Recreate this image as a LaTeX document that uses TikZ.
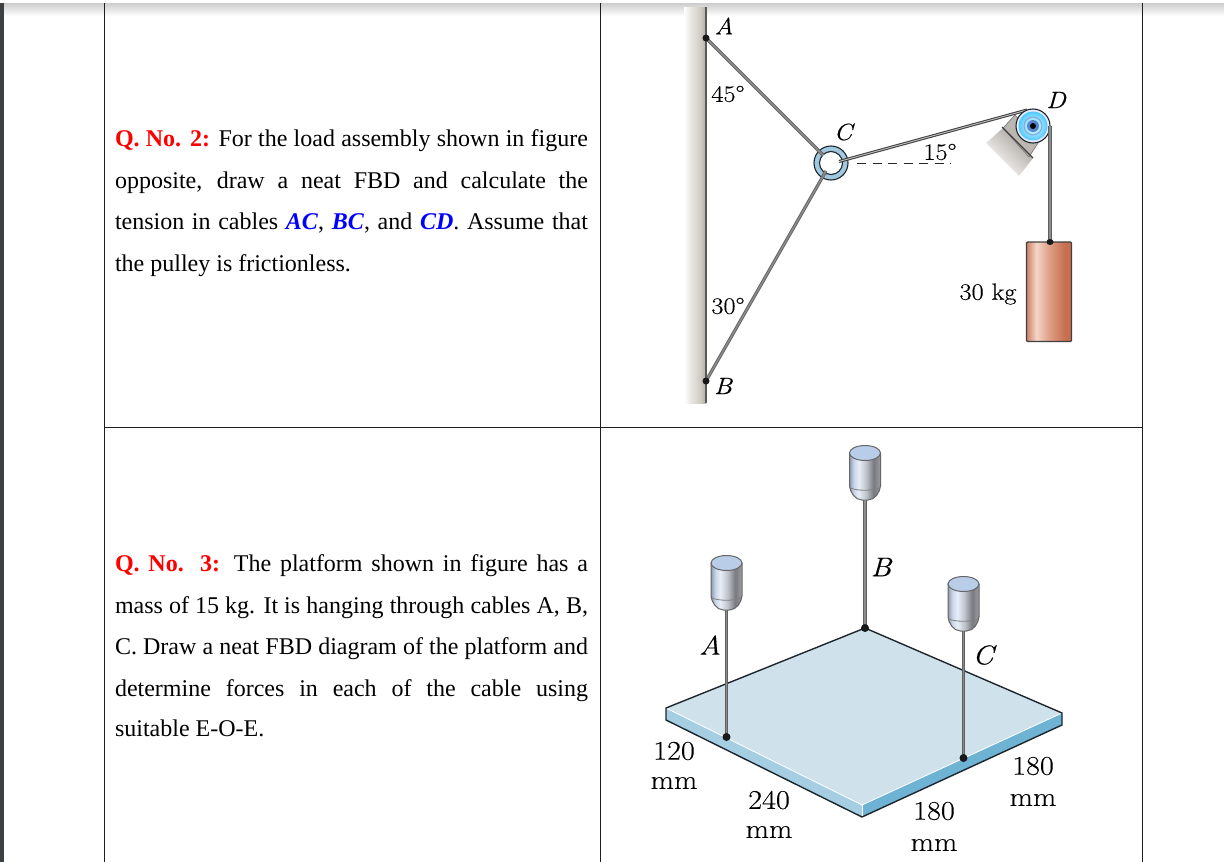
\documentclass[tikz,border=0pt]{standalone}
\usepackage{fontspec}
\setmainfont{Liberation Serif}
\newfontfamily\figfont[FakeStretch=1.12,FakeBold=0.25]{Latin Modern Roman}
\usetikzlibrary{shadings}
\definecolor{qred}{RGB}{255,0,0}
\definecolor{qblue}{RGB}{0,0,255}
\definecolor{c1}{RGB}{206,128,100}
\definecolor{c2}{RGB}{243,214,200}
\definecolor{c3}{RGB}{222,160,135}
\definecolor{c4}{RGB}{198,110,80}
\definecolor{c5}{RGB}{232,228,224}
\definecolor{c6}{RGB}{208,202,196}
\definecolor{c7}{RGB}{182,174,166}
\definecolor{k1}{RGB}{143,155,173}
\definecolor{k2}{RGB}{201,214,234}
\definecolor{k3}{RGB}{232,238,248}
\definecolor{k4}{RGB}{190,194,202}
\definecolor{k5}{RGB}{120,122,128}
\definecolor{k6}{RGB}{155,157,163}
\definecolor{captop}{RGB}{185,205,232}
\definecolor{rule1}{RGB}{30,30,30}
\definecolor{cablegray}{RGB}{140,140,140}
\definecolor{cabledark}{RGB}{95,95,95}
\definecolor{plattop}{RGB}{207,226,236}
\definecolor{platleft}{RGB}{165,206,226}
\definecolor{platright}{RGB}{110,178,212}
\definecolor{edgedark}{RGB}{30,38,45}
\definecolor{ringblue}{RGB}{160,200,222}
\definecolor{sidebar}{RGB}{60,64,67}
\pgfdeclarehorizontalshading{cylsh}{100bp}{color(0bp)=(k1);color(25bp)=(k1);color(32bp)=(k2);color(40bp)=(k3);color(52bp)=(k4);color(64bp)=(k5);color(75bp)=(k6);color(100bp)=(k6)}
\pgfdeclarehorizontalshading{weightsh}{100bp}{color(0bp)=(c1);color(25bp)=(c1);color(36bp)=(c2);color(50bp)=(c3);color(68bp)=(c4);color(75bp)=(c4);color(100bp)=(c4)}
\pgfdeclarehorizontalshading{wallsh}{100bp}{color(0bp)=(white);color(25bp)=(white);color(42bp)=(c5);color(62bp)=(c6);color(75bp)=(c7);color(100bp)=(c7)}
\tikzset{
  x=1pt,y=-1pt,
  tablerule/.style={draw=rule1,line width=1pt},
  para/.style={anchor=base west,inner sep=0pt,outer sep=0pt,font=\fontsize{24}{28}\selectfont},
  figlabel/.style={inner sep=0pt,outer sep=0pt,font=\fontsize{23.5}{28}\figfont,text=black},
  platlabel/.style={inner sep=0pt,outer sep=0pt,font=\fontsize{27}{30}\figfont,text=black},
  pin dot/.style={fill=black!90,draw=none},
}
\newcommand{\cableline}[2]{%
  \draw[cabledark,line width=3.2pt] (#1) -- (#2);
  \draw[cablegray,line width=1.5pt] (#1) -- (#2);}
\newcommand{\qline}[2]{\makebox[473pt][s]{#2}}
\newcommand{\qa}[1]{\textcolor{qblue}{\textbf{\textit{#1}}}}
% #1 name, #2 x, #3 y of top ellipse centre
\newcommand{\canister}[3]{%
  \coordinate (#1) at (#2,#3+47);
  \shade[shading=cylsh,draw=black!60,line width=1pt]
    (#2-15.5,#3) -- (#2-15.5,#3+33) .. controls (#2-15,#3+39) and (#2-10,#3+47) .. (#2-3,#3+47)
    -- (#2+3,#3+47) .. controls (#2+10,#3+47) and (#2+15,#3+39) .. (#2+15.5,#3+33) -- (#2+15.5,#3) -- cycle;
  \draw[black!50,line width=.8pt] (#2-14.5,#3+35) .. controls (#2-8,#3+38) and (#2+8,#3+38) .. (#2+14.5,#3+35);
  \filldraw[fill=captop,draw=black!60,line width=1pt] (#2,#3) ellipse [x radius=15.5,y radius=7.5];
}
\begin{document}
\begin{tikzpicture}
\useasboundingbox (0,0) rectangle (1224,862);
\fill[white] (0,0) rectangle (1224,862);
% window top shadow
\shade[top color=black!20,bottom color=white] (0,3) rectangle (1224,16);
\fill[sidebar] (0,3) rectangle (4,862);
% table rules
\coordinate (tl) at (104.5,3); \coordinate (tm) at (600.5,3); \coordinate (tr) at (1142.5,3);
\coordinate (bl) at (104.5,862); \coordinate (bm) at (600.5,862); \coordinate (br) at (1142.5,862);
\coordinate (rl) at (104.5,427.5); \coordinate (rr) at (1142.5,427.5);
\draw[tablerule] (tl) -- (bl);
\draw[tablerule] (tm) -- (bm);
\draw[tablerule] (tr) -- (br);
\draw[tablerule] (rl) -- (rr);
% question 2
\node[para] (q2a) at (115,146) {\qline{}{\textbf{\textcolor{qred}{Q. No. 2:}} For the load assembly shown in figure}};
\node[para] (q2b) at (115,188) {\qline{}{opposite, draw a neat FBD and calculate the}};
\node[para] (q2c) at (115,229) {\qline{}{tension in cables \qa{AC}, \qa{BC}, and \qa{CD}. Assume that}};
\node[para] (q2d) at (115,271) {the pulley is frictionless.};
% question 3
\node[para] (q3a) at (115,571) {\qline{}{\textbf{\textcolor{qred}{Q. No. 3:}} The platform shown in figure has a}};
\node[para] (q3b) at (115,613) {\qline{}{mass of 15 kg. It is hanging through cables A, B,}};
\node[para] (q3c) at (115,654) {\qline{}{C. Draw a neat FBD diagram of the platform and}};
\node[para] (q3d) at (115,696) {\qline{}{determine forces in each of the cable using}};
\node[para] (q3e) at (115,736) {suitable E-O-E.};
% ---------- figure 1 ----------
\shade[shading=wallsh] (684,7) rectangle (706,403);
\coordinate (walltop) at (706,7); \coordinate (wallbot) at (706,403);
\draw[black!65,line width=1.5pt] (walltop) -- (wallbot);
\coordinate (A) at (706,38);
\coordinate (B) at (706,381);
\coordinate (C) at (831,163);
\coordinate (D) at (1033,126);
\coordinate (Cin1) at (823,155);
\coordinate (Cin2) at (826,171);
\coordinate (Cin3) at (839,161.5);
\coordinate (Dtan) at (1027,110);
\coordinate (Dright) at (1050,126);
\coordinate (W) at (1050,240);
% pulley support
\shade[top color=black!10!c7,bottom color=white,shading angle=-45] (1003,128) -- (1033,158) -- (1019,176) -- (986,143) -- cycle;
\fill[c6!90!black,draw=black!55,line width=.6pt] (1003,128) -- (1015,115) -- (1040,140) -- (1029,157) -- cycle;
\coordinate (pl1) at (1002,127); \coordinate (pl2) at (1033,158);
\draw[black!75,line width=1.3pt] (pl1) -- (pl2);
% ring
\filldraw[fill=ringblue,draw=edgedark,line width=1.1pt,even odd rule] (C) circle (17) (C) circle (11.5);
% cables
\cableline{A}{Cin1}
\cableline{B}{Cin2}
\draw[black!75,line width=3pt] (Cin3) -- (Dtan);
\draw[black!25,line width=.9pt] (Cin3) -- (Dtan);
% pulley
\filldraw[fill=blue!8!white,draw=edgedark,line width=1.1pt] (D) circle (17);
\shade[inner color=white,outer color=cyan!70!blue!70!white] (D) circle (14.5);
\draw[cyan!50!blue!50!white,line width=1pt] (D) circle (9);
\fill[cyan!45!blue!70!white] (D) circle (6);
\fill[black] (D) circle (3);
\cableline{Dright}{W}
% weight
\shade[shading=weightsh,draw=black!75,line width=1.3pt,rounded corners=1pt] (1026.5,242) rectangle (1071.5,341.5);
\fill[pin dot] (1050,242) ellipse [x radius=3.5,y radius=3];
% dashed reference
\coordinate (dash1) at (857,163.5); \coordinate (dash2) at (951,163.5);
\draw[black!85,line width=1.2pt,dash pattern=on 9pt off 6.5pt] (dash1) -- (dash2);
\fill[pin dot] (A) circle (3.5);
\fill[pin dot] (B) circle (3.5);
\node[figlabel] (lA) at (724,26) {\itshape A};
\node[figlabel] (l45) at (728,94) {45°};
\node[figlabel] (lC) at (843,132) {\itshape C};
\node[figlabel] (l15) at (940,152) {15°};
\node[figlabel] (lD) at (1056,100) {\itshape D};
\node[figlabel] (l30kg) at (988,294) {30 kg};
\node[figlabel] (l30) at (728,306) {30°};
\node[figlabel] (lB) at (723,386) {\itshape B};
% ---------- figure 2 ----------
\coordinate (Pb) at (865,628);
\coordinate (Pl) at (666,708);
\coordinate (Pf) at (862,805);
\coordinate (Pr) at (1062,713);
\coordinate (Pl2) at (666,720);
\coordinate (Pf2) at (862,817);
\coordinate (Pr2) at (1062,725);
\fill[platleft] (Pl) -- (Pf) -- (Pf2) -- (Pl2) -- cycle;
\fill[platright] (Pf) -- (Pr) -- (Pr2) -- (Pf2) -- cycle;
\fill[plattop] (Pb) -- (Pl) -- (Pf) -- (Pr) -- cycle;
\draw[white,line width=.8pt] (Pl) -- (Pf) -- (Pr);
\draw[white,line width=.8pt] (Pf) -- (Pf2);
\draw[edgedark,line width=1.4pt,line join=round] (Pl2) -- (Pl) -- (Pb) -- (Pr) -- (Pr2) -- (Pf2) -- cycle;
\coordinate (Pa) at (726.5,737);
\coordinate (Pbb) at (865,628);
\coordinate (Pc) at (963.5,758);
\canister{CanA}{726.5}{563}
\canister{CanB}{865}{453}
\canister{CanC}{963.5}{584}
\cableline{CanA}{Pa}
\cableline{CanB}{Pbb}
\cableline{CanC}{Pc}
\fill[pin dot] (Pa) circle (4);
\fill[pin dot] (Pbb) circle (4);
\fill[pin dot] (Pc) circle (4);
\node[platlabel] (pA) at (710,645) {\itshape A};
\node[platlabel] (pB) at (881,567) {\itshape B};
\node[platlabel] (pC) at (983,655) {\itshape C};
\node[platlabel] (d120) at (674,751) {120};
\node[platlabel] (d120m) at (674,783) {mm};
\node[platlabel] (d240) at (769,800) {240};
\node[platlabel] (d240m) at (769,832) {mm};
\node[platlabel] (d180) at (934,811) {180};
\node[platlabel] (d180m) at (934,845) {mm};
\node[platlabel] (e180) at (1033,766) {180};
\node[platlabel] (e180m) at (1033,800) {mm};
\end{tikzpicture}
\end{document}
